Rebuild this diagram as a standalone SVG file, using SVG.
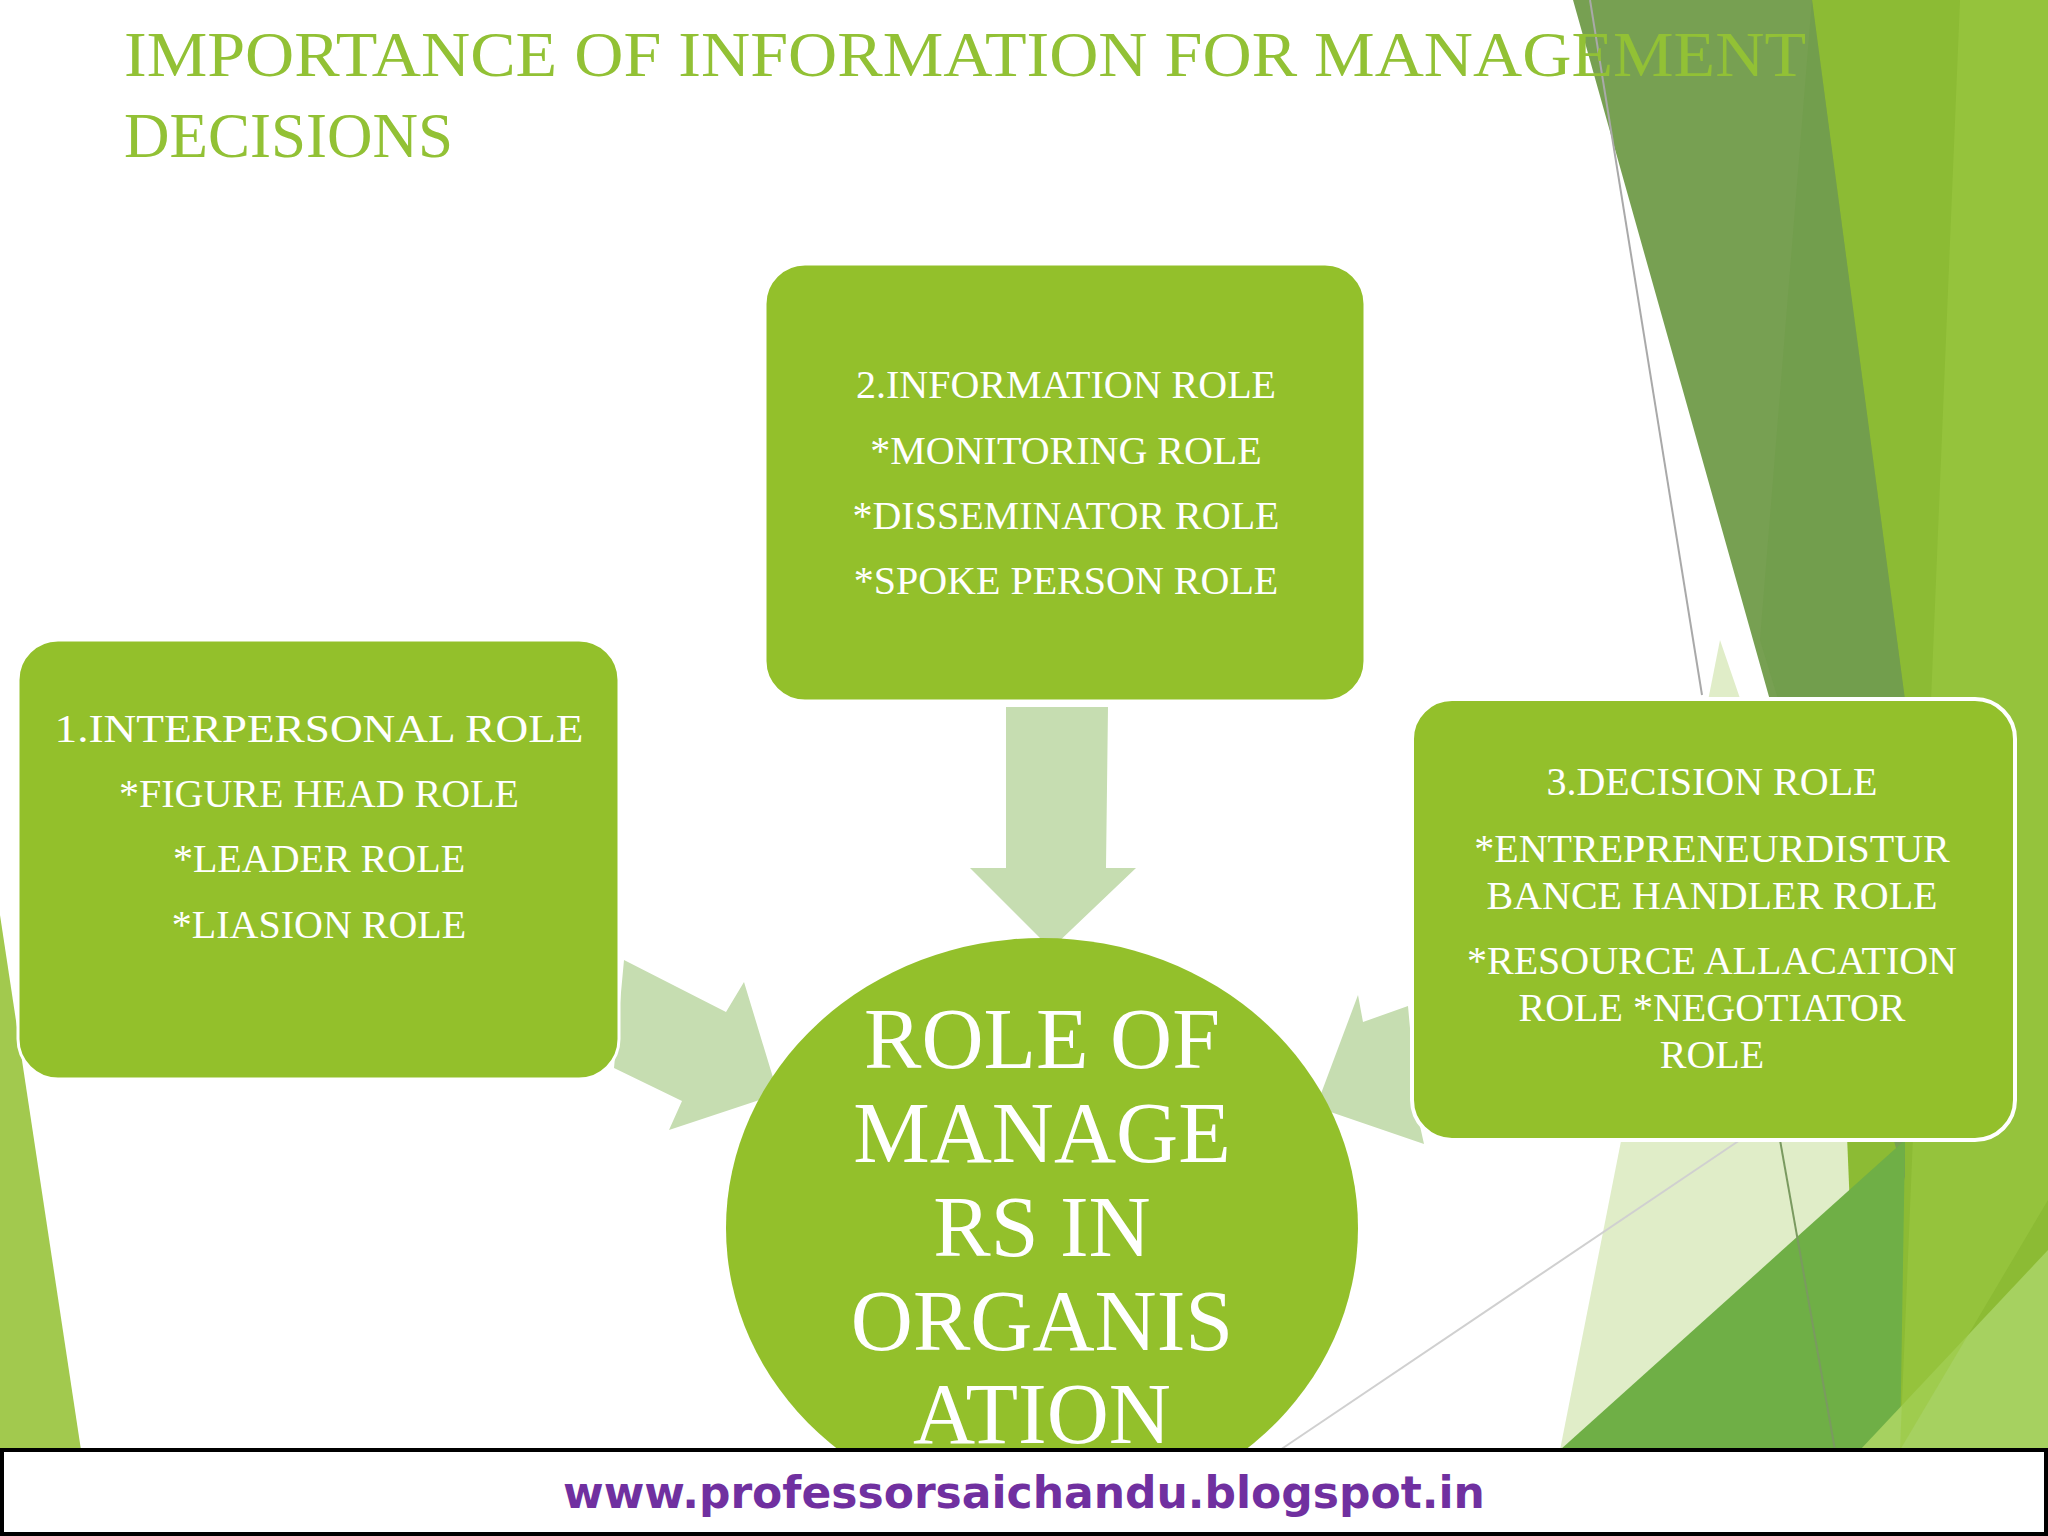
<svg xmlns="http://www.w3.org/2000/svg" width="2048" height="1536" viewBox="0 0 2048 1536">
<style>
.box{fill:#93c02b}
.t{font-family:"Liberation Serif",serif;fill:#fff;text-anchor:middle}
.arr{fill:#c6ddb1}
</style>
<rect width="2048" height="1536" fill="#fff"/>
<g id="background">
<polygon points="1720,640 1905,1180 1600,1450 1560,1450" fill="#e0edc8"/>
<polygon points="1800,0 2048,0 2048,1450 1860,1450" fill="#8cbb34"/>
<polygon points="1573,0 1812,0 1905,700 1905,1180" fill="#77a052"/>
<polygon points="1812,0 1905,700 1870,1000 1760,640" fill="#6e9c47" opacity="0.5"/>
<polygon points="1560,1450 1905,1140 1900,1450" fill="#6faf46"/>
<polygon points="1860,1450 2048,1250 2048,1450" fill="#a6d160"/>
<polygon points="1960,0 2048,0 2048,1200 1900,1450" fill="#9bc843" opacity="0.6"/>
<polygon points="0,915 81,1450 0,1450" fill="#a2c94e"/>
<line x1="1590" y1="0" x2="1702" y2="695" stroke="#a9a9a9" stroke-width="2"/>
<line x1="1280" y1="1450" x2="1740" y2="1140" stroke="#d0d0d0" stroke-width="2"/>
<line x1="1780" y1="1140" x2="1835" y2="1450" stroke="#7a9a60" stroke-width="2"/>
</g>
<g id="title">
<text x="124" y="76" font-family="Liberation Serif,serif" font-size="63" fill="#92c135" textLength="1682" lengthAdjust="spacingAndGlyphs">IMPORTANCE OF INFORMATION FOR MANAGEMENT</text>
<text x="124" y="157" font-family="Liberation Serif,serif" font-size="63" fill="#92c135">DECISIONS</text>
</g>
<g id="connectors">
<polygon class="arr" points="1006,707 1108,707 1106,868 1136,868 1051,949 970,868 1006,868"/>
<polygon class="arr" points="624,960 726,1012 744,982 778,1094 669,1130 682,1101 614,1068"/>
<polygon class="arr" points="1408,1006 1363,1022 1358,995 1316,1107 1424,1144 1418,1117"/>
</g>
<g id="node-interpersonal">
<rect class="box" x="18" y="640" width="601" height="439" rx="40" stroke="#fff" stroke-width="3"/>
<text class="t" font-size="40" x="319" y="742" textLength="529" lengthAdjust="spacingAndGlyphs">1.INTERPERSONAL ROLE</text>
<text class="t" font-size="40" x="319" y="807">*FIGURE HEAD ROLE</text>
<text class="t" font-size="40" x="319" y="872">*LEADER ROLE</text>
<text class="t" font-size="40" x="319" y="938">*LIASION ROLE</text>
</g>
<g id="node-information">
<rect class="box" x="765" y="264" width="600" height="437" rx="40" stroke="#fff" stroke-width="3"/>
<text class="t" font-size="40" x="1066" y="398">2.INFORMATION ROLE</text>
<text class="t" font-size="40" x="1066" y="464">*MONITORING ROLE</text>
<text class="t" font-size="40" x="1066" y="529">*DISSEMINATOR ROLE</text>
<text class="t" font-size="40" x="1066" y="594">*SPOKE PERSON ROLE</text>
</g>
<g id="node-decision">
<rect class="box" x="1412" y="699" width="603" height="441" rx="40" stroke="#fff" stroke-width="4"/>
<text class="t" font-size="40" x="1712" y="795">3.DECISION ROLE</text>
<text class="t" font-size="40" x="1712" y="862">*ENTREPRENEURDISTUR</text>
<text class="t" font-size="40" x="1712" y="909">BANCE HANDLER ROLE</text>
<text class="t" font-size="40" x="1712" y="974">*RESOURCE ALLACATION</text>
<text class="t" font-size="40" x="1712" y="1021">ROLE *NEGOTIATOR</text>
<text class="t" font-size="40" x="1712" y="1068">ROLE</text>
</g>
<g id="node-center">
<ellipse class="box" cx="1042" cy="1228" rx="316" ry="290"/>
<text class="t" font-size="86" x="1042" y="1068">ROLE OF</text>
<text class="t" font-size="86" x="1042" y="1162">MANAGE</text>
<text class="t" font-size="86" x="1042" y="1256">RS IN</text>
<text class="t" font-size="86" x="1042" y="1350">ORGANIS</text>
<text class="t" font-size="86" x="1042" y="1443">ATION</text>
</g>
<g id="footer">
<rect x="2" y="1450" width="2044" height="84" fill="#fff" stroke="#000" stroke-width="4"/>
<text x="1024" y="1508" font-family="DejaVu Sans,sans-serif" font-weight="bold" font-size="44" fill="#7030a0" text-anchor="middle">www.professorsaichandu.blogspot.in</text>
</g>
</svg>
